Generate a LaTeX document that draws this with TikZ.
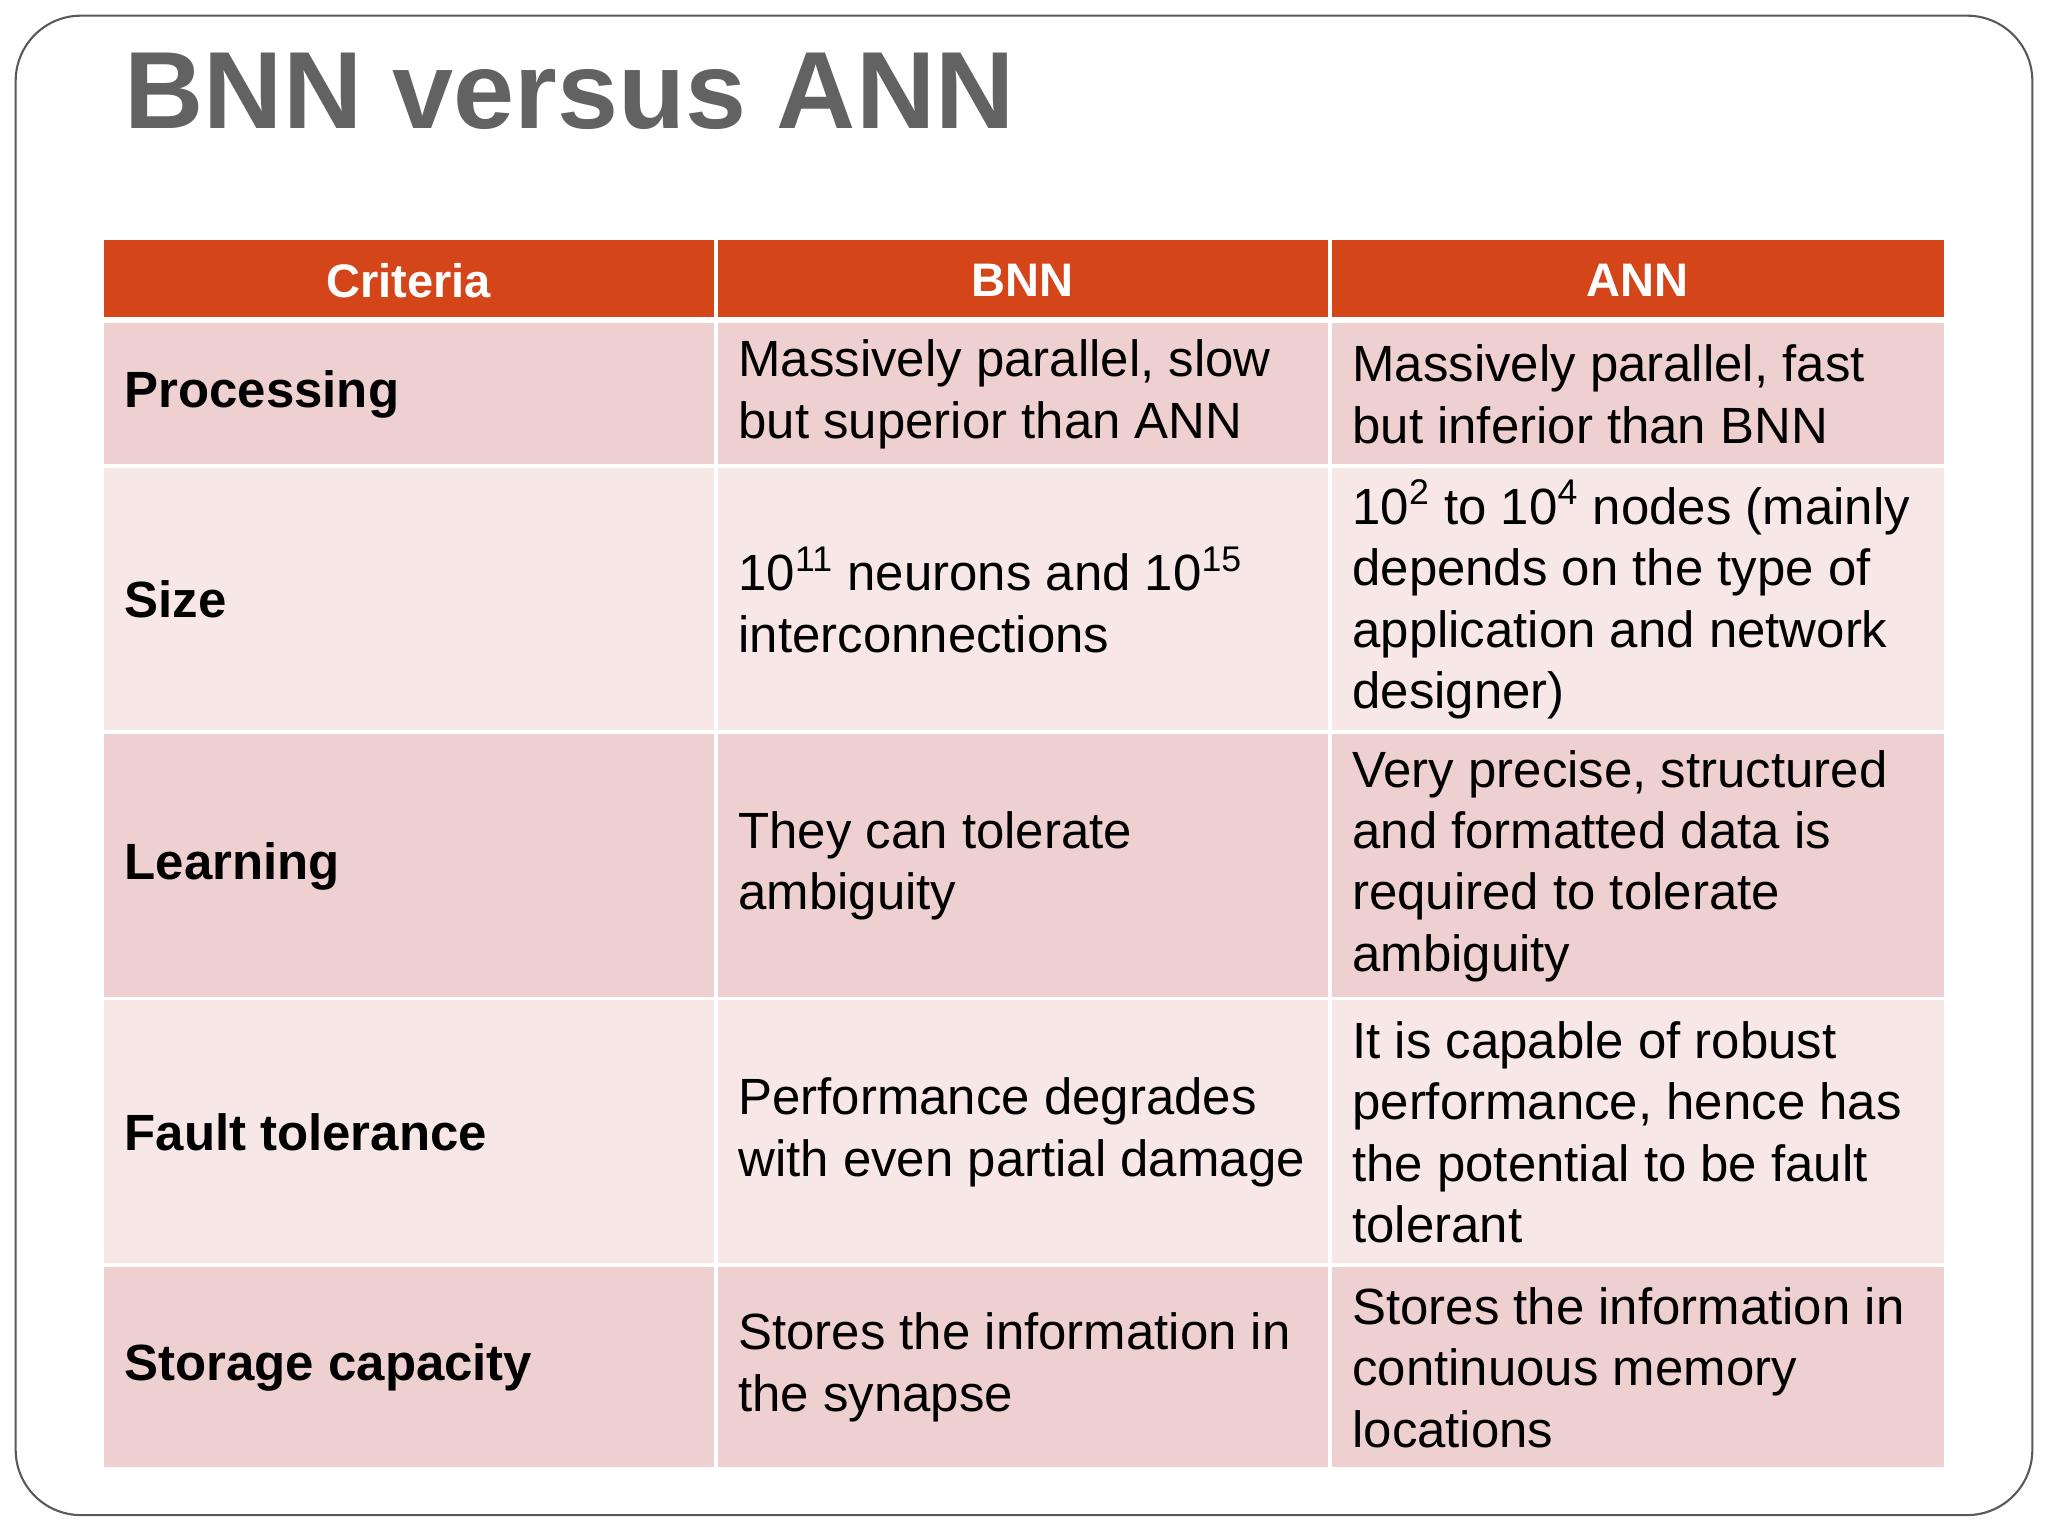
\documentclass[tikz,border=0pt]{standalone}
\usepackage{fontspec}
\setmainfont{Liberation Sans}
\definecolor{hdr}{HTML}{D4451A}
\definecolor{rowa}{HTML}{EFD0D0}
\definecolor{rowb}{HTML}{F7E7E7}
\definecolor{ttl}{HTML}{626262}
\begin{document}
\begin{tikzpicture}[x=0.5pt,y=-0.5pt,
  cell/.style={inner sep=0pt},
  crit/.style={anchor=west,font=\fontsize{19.5}{23.5}\selectfont\bfseries,inner sep=0pt},
  body/.style={anchor=west,align=left,font=\fontsize{19.5}{23.5}\selectfont,inner sep=0pt},
  head/.style={font=\fontsize{18}{22}\selectfont\bfseries,text=white,inner sep=0pt}]
\useasboundingbox (0,0) rectangle (1568,1176);
\fill[white] (0,0) rectangle (1568,1176);
\draw[gray!70!black,line width=0.8pt,rounded corners=25pt] (12,12) rectangle (1556,1160);
\node[anchor=west,text=ttl,font=\fontsize{42}{46}\selectfont\bfseries,inner sep=0pt] (title) at (95,70) {BNN versus ANN};
% header
\fill[hdr] (80,184) rectangle (547,243);
\fill[hdr] (550,184) rectangle (1017,243);
\fill[hdr] (1020,184) rectangle (1488,243);
\node[head] (h1) at (313,215) {Criteria};
\node[head] (h2) at (783,215) {BNN};
\node[head] (h3) at (1254,215) {ANN};
% rows
\foreach \ya/\yb/\c in {247/355/rowa,358/559/rowb,562/763/rowa,766/967/rowb,970/1123/rowa}{
  \fill[\c] (80,\ya) rectangle (547,\yb);
  \fill[\c] (550,\ya) rectangle (1017,\yb);
  \fill[\c] (1020,\ya) rectangle (1488,\yb);
}
\node[crit] (c1) at (95,302) {Processing};
\node[crit] (c2) at (95,459) {Size};
\node[crit] (c3) at (95,663) {Learning};
\node[crit] (c4) at (95,867) {Fault tolerance};
\node[crit] (c5) at (95,1047) {Storage capacity};
\node[body] (b1) at (565,302) {Massively parallel, slow\\but superior than ANN};
\node[body] (b2) at (565,459) {10\textsuperscript{11} neurons and 10\textsuperscript{15}\\interconnections};
\node[body] (b3) at (565,663) {They can tolerate\\ambiguity};
\node[body] (b4) at (565,867) {Performance degrades\\with even partial damage};
\node[body] (b5) at (565,1047) {Stores the information in\\the synapse};
\node[body] (a1) at (1035,302) {Massively parallel, fast\\but inferior than BNN};
\node[body] (a2) at (1035,459) {10\textsuperscript{2} to 10\textsuperscript{4} nodes (mainly\\depends on the type of\\application and network\\designer)};
\node[body] (a3) at (1035,663) {Very precise, structured\\and formatted data is\\required to tolerate\\ambiguity};
\node[body] (a4) at (1035,867) {It is capable of robust\\performance, hence has\\the potential to be fault\\tolerant};
\node[body] (a5) at (1035,1047) {Stores the information in\\continuous memory\\locations};
\end{tikzpicture}
\end{document}
